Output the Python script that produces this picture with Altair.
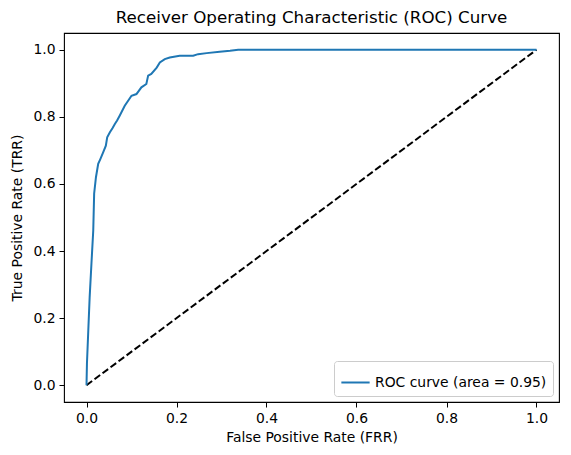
import altair as alt
import pandas as pd

# ROC curve points
fpr = [0.0, 0.001, 0.004, 0.007, 0.011, 0.015, 0.017, 0.021, 0.026, 0.031,
       0.037, 0.043, 0.046, 0.052, 0.058, 0.063, 0.068, 0.074, 0.085, 0.100,
       0.111, 0.122, 0.133, 0.137, 0.144, 0.156, 0.163, 0.174, 0.185, 0.207,
       0.237, 0.248, 0.267, 0.296, 0.319, 0.337, 1.0]
tpr = [0.0, 0.065, 0.164, 0.262, 0.363, 0.461, 0.571, 0.620, 0.660, 0.675,
       0.694, 0.714, 0.739, 0.754, 0.767, 0.779, 0.789, 0.804, 0.833, 0.863,
       0.868, 0.888, 0.898, 0.923, 0.928, 0.947, 0.962, 0.972, 0.977, 0.982,
       0.982, 0.987, 0.990, 0.994, 0.997, 1.0, 1.0]
roc_label = "ROC curve (area = 0.95)"

diag_x = [0.0, 1.0]
diag_y = [0.0, 1.0]

ticks = [0.0, 0.2, 0.4, 0.6, 0.8, 1.0]

font = "DejaVu Sans"

roc = pd.DataFrame({"fpr": fpr, "tpr": tpr, "series": roc_label,
                    "order": range(len(fpr))})
diag = pd.DataFrame({"fpr": diag_x, "tpr": diag_y})

x_enc = alt.X("fpr:Q", title="False Positive Rate (FRR)",
              scale=alt.Scale(domain=[-0.05, 1.05], nice=False, zero=False),
              axis=alt.Axis(values=ticks, format=".1f"))
y_enc = alt.Y("tpr:Q", title="True Positive Rate (TRR)",
              scale=alt.Scale(domain=[-0.05, 1.05], nice=False, zero=False),
              axis=alt.Axis(values=ticks, format=".1f"))

line = alt.Chart(roc).mark_line(strokeWidth=2).encode(
    x=x_enc,
    y=y_enc,
    order="order:Q",
    color=alt.Color("series:N", title=None,
                    scale=alt.Scale(range=["#1f77b4"]),
                    legend=alt.Legend(orient="bottom-right", offset=6,
                                      symbolType="stroke", symbolSize=800,
                                      symbolStrokeWidth=2,
                                      strokeColor="#cccccc", fillColor="white",
                                      cornerRadius=3, padding=6,
                                      labelFont=font, labelFontSize=13.9,
                                      labelColor="black", labelLimit=300)),
)

dashed = alt.Chart(diag).mark_line(color="black", strokeWidth=2,
                                   strokeDash=[7, 3]).encode(
    x="fpr:Q",
    y="tpr:Q",
)

chart = (dashed + line).properties(
    width=495,
    height=369,
    title=alt.TitleParams("Receiver Operating Characteristic (ROC) Curve",
                          font=font, fontSize=16.7, fontWeight="normal",
                          color="black", offset=6),
    padding={"left": 56, "top": 25, "right": 4, "bottom": 48},
    autosize="none",
).configure_view(
    stroke="black", strokeWidth=1.1
).configure_axis(
    grid=False, domain=False, tickColor="black", tickSize=5, tickWidth=1,
    labelFont=font, labelFontSize=13.9, labelColor="black", labelPadding=4,
    titleFont=font, titleFontSize=13.9, titleColor="black",
    titleFontWeight="normal",
).configure_axisX(titlePadding=6).configure_axisY(titlePadding=8)

chart.save("out.html", embed_options={"renderer": "svg", "actions": False})
